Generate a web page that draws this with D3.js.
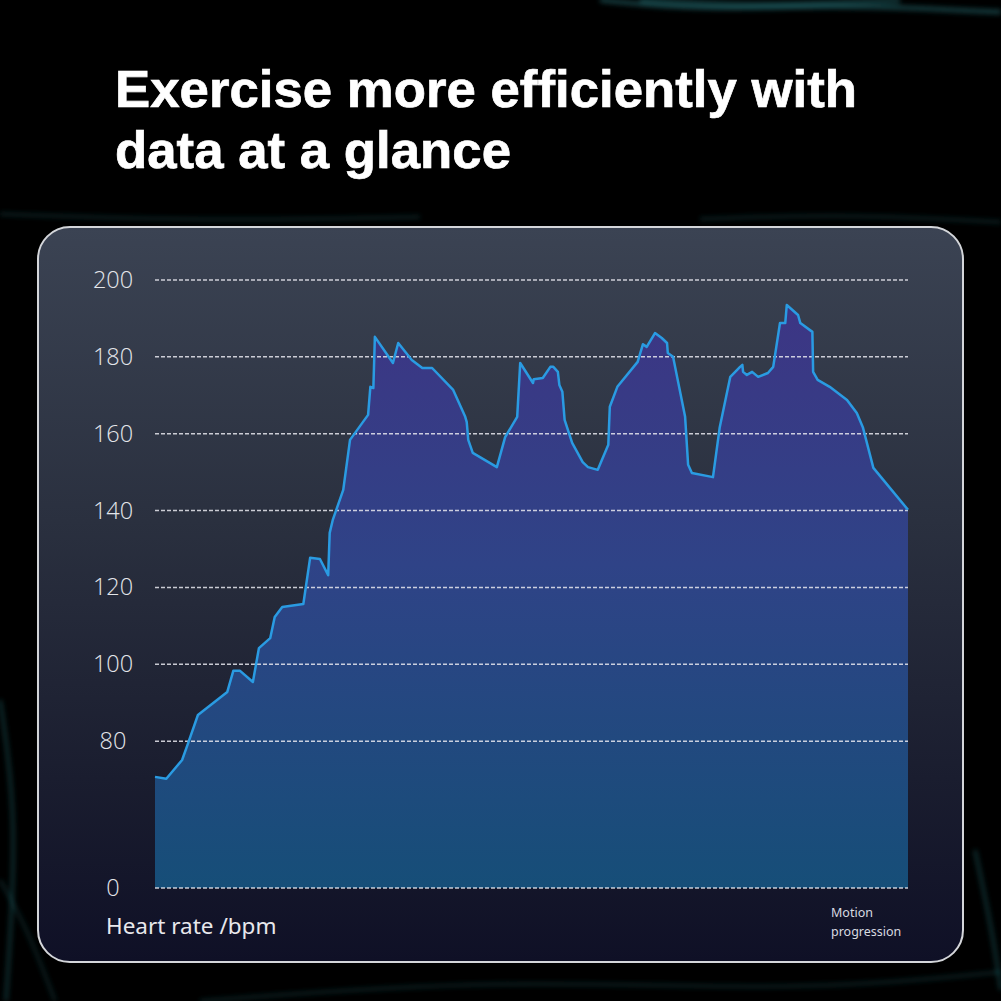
<!DOCTYPE html>
<html>
<head>
<meta charset="utf-8">
<script src="https://cdn.jsdelivr.net/npm/d3@7"></script>
<style>
  html, body { margin: 0; padding: 0; background: #000; }
  svg { display: block; }
</style>
</head>
<body>
<div id="chart"></div>
<script>
// motion progression (% of session) and heart rate (bpm)
const progress = [0, 1.5, 3.6, 4.4, 5.7, 9.6, 10.4, 11.3, 13.0, 13.8, 15.3, 15.9, 16.9, 19.7, 20.6, 21.9, 23.0,
  23.2, 23.6, 25.0, 25.9, 28.3, 28.6, 29.0, 29.2, 31.6, 32.3, 34.1, 35.5, 36.8, 39.6, 41.2, 41.4, 41.6, 42.2,
  45.4, 46.5, 48.1, 48.5, 50.2, 50.3, 51.5, 52.5, 52.9, 53.5, 53.7, 54.1, 54.4, 55.4, 56.8, 57.5, 58.8, 60.2,
  60.4, 61.4, 64.1, 64.8, 65.3, 66.4, 67.3, 68.0, 68.1, 68.8, 70.4, 70.8, 71.3, 74.1, 75.0, 76.4, 77.7, 78.0,
  78.1, 78.6, 79.3, 80.1, 81.4, 82.1, 83.0, 83.7, 83.9, 85.4, 85.7, 87.3, 87.4, 88.0, 89.6, 91.9, 93.2, 94.0,
  95.4, 100];
const heartRate = [70.7, 70.2, 75.1, 79.5, 86.8, 92.8, 98.3, 98.3, 95.4, 104.2, 106.8, 112.3, 114.9, 115.7, 127.7, 127.4, 123.2,
  134.2, 137.5, 145.4, 158.4, 164.9, 172.2, 171.9, 185.2, 178.4, 183.6, 179.2, 177.1, 177.1, 171.4, 164.4, 163.0, 158.4, 155.0,
  151.3, 159.1, 164.4, 178.4, 173.2, 174.2, 174.5, 177.4, 177.4, 176.1, 172.7, 170.9, 163.6, 157.6, 152.6, 151.3, 150.6, 157.1,
  167.0, 172.2, 178.7, 183.3, 182.6, 186.2, 184.9, 183.6, 181.0, 180.0, 164.4, 151.9, 149.8, 148.7, 161.7, 174.8, 177.4, 177.9,
  176.1, 175.3, 176.1, 174.8, 175.8, 177.4, 188.8, 188.8, 193.5, 190.9, 188.8, 186.5, 176.1, 174.0, 172.2, 168.8, 165.4, 161.7,
  151.1, 140.2];
const yTicks = [0, 80, 100, 120, 140, 160, 180, 200];
const titleLines = ['Exercise more efficiently with', 'data at a glance'];
const yLabel = 'Heart rate /bpm';
const xLabel = ['Motion', 'progression'];

const W = 1001, H = 1001;
const data = progress.map((p, i) => ({ p, v: heartRate[i] }));

const svg = d3.select('#chart').append('svg')
  .attr('width', W)
  .attr('height', H);

const defs = svg.append('defs');

const cardGrad = defs.append('linearGradient')
  .attr('id', 'cardGrad').attr('x1', 0).attr('y1', 0).attr('x2', 0).attr('y2', 1);
cardGrad.append('stop').attr('offset', '0%').attr('stop-color', '#3b4353');
cardGrad.append('stop').attr('offset', '40%').attr('stop-color', '#2a303f');
cardGrad.append('stop').attr('offset', '75%').attr('stop-color', '#1a1d2f');
cardGrad.append('stop').attr('offset', '100%').attr('stop-color', '#0f1026');

const areaGrad = defs.append('linearGradient')
  .attr('id', 'areaGrad').attr('gradientUnits', 'userSpaceOnUse')
  .attr('x1', 0).attr('y1', 300).attr('x2', 0).attr('y2', 888);
areaGrad.append('stop').attr('offset', '0%').attr('stop-color', '#3d3584');
areaGrad.append('stop').attr('offset', '45%').attr('stop-color', '#2f4387');
areaGrad.append('stop').attr('offset', '100%').attr('stop-color', '#164e78');

defs.append('filter').attr('id', 'soft')
  .append('feGaussianBlur').attr('stdDeviation', 2.5);

// faint teal streaks in the black backdrop
const bg = svg.append('g').attr('fill', 'none').attr('stroke', '#2f8f96').attr('filter', 'url(#soft)');
const streak = d3.line().curve(d3.curveBasis);
[
  { pts: [[600, 0], [700, 10], [820, 4], [1001, 12]], o: 0.4, w: 5 },
  { pts: [[640, 0], [760, 8], [900, 0]], o: 0.3, w: 8 },
  { pts: [[0, 700], [18, 820], [6, 1001]], o: 0.3, w: 4 },
  { pts: [[0, 880], [28, 930], [55, 1001]], o: 0.25, w: 3 },
  { pts: [[200, 1001], [500, 978], [800, 992], [1001, 972]], o: 0.25, w: 3 },
  { pts: [[975, 850], [992, 930], [1001, 990]], o: 0.3, w: 4 },
  { pts: [[0, 214], [200, 221], [420, 217]], o: 0.25, w: 3 },
  { pts: [[700, 219], [850, 214], [1001, 222]], o: 0.25, w: 3 }
].forEach(s => {
  bg.append('path').attr('d', streak(s.pts)).attr('stroke-opacity', s.o).attr('stroke-width', s.w);
});

// title
const title = svg.append('g')
  .attr('fill', '#ffffff')
  .attr('stroke', '#ffffff')
  .attr('stroke-width', 0.7)
  .attr('font-family', '"Liberation Sans", Arial, sans-serif')
  .attr('font-weight', 'bold')
  .attr('font-size', 52);
title.append('text').attr('x', 115).attr('y', 107)
  .attr('textLength', 742).attr('lengthAdjust', 'spacingAndGlyphs').text(titleLines[0]);
title.append('text').attr('x', 115).attr('y', 168)
  .attr('textLength', 396).attr('lengthAdjust', 'spacingAndGlyphs').text(titleLines[1]);

// card
svg.append('rect')
  .attr('x', 38).attr('y', 227)
  .attr('width', 925).attr('height', 735)
  .attr('rx', 32).attr('ry', 32)
  .attr('fill', 'url(#cardGrad)')
  .attr('stroke', '#d4d6da')
  .attr('stroke-width', 2);

const x = d3.scaleLinear().domain([0, 100]).range([155, 908]);
// broken axis: the band below 60 is squeezed
const y = d3.scaleLinear().domain([0, 60, 200]).range([888, 818, 280]);

const area = d3.area()
  .x(d => x(d.p))
  .y0(y(0))
  .y1(d => y(d.v));

const line = d3.line()
  .x(d => x(d.p))
  .y(d => y(d.v));

svg.append('path')
  .datum(data)
  .attr('d', area)
  .attr('fill', 'url(#areaGrad)');

const yAxis = d3.axisLeft(y)
  .tickValues(yTicks)
  .tickSize(0)
  .tickPadding(0);

const axisG = svg.append('g')
  .attr('transform', 'translate(113,0)')
  .call(yAxis);
axisG.select('.domain').remove();
axisG.selectAll('text')
  .attr('x', 0)
  .attr('text-anchor', 'middle')
  .attr('fill', '#e4e6ea')
  .attr('font-family', '"Open Sans", "Noto Sans", sans-serif')
  .attr('font-weight', 300)
  .attr('font-size', 23.5);

svg.append('g')
  .selectAll('line')
  .data(yTicks)
  .join('line')
  .attr('x1', x(0))
  .attr('x2', x(100))
  .attr('y1', d => y(d))
  .attr('y2', d => y(d))
  .attr('stroke', '#e8e8ee')
  .attr('stroke-opacity', 0.85)
  .attr('stroke-width', 1.5)
  .attr('stroke-dasharray', '4,2');

svg.append('path')
  .datum(data)
  .attr('d', line)
  .attr('fill', 'none')
  .attr('stroke', '#2a9be2')
  .attr('stroke-width', 2.5)
  .attr('stroke-linejoin', 'round');

svg.append('text')
  .attr('x', 106).attr('y', 934)
  .attr('fill', '#e8e8ec')
  .attr('font-family', '"Noto Sans", sans-serif')
  .attr('font-size', 22.5)
  .text(yLabel);

svg.append('g')
  .attr('fill', '#d8dae0')
  .attr('font-family', '"Noto Sans", sans-serif')
  .attr('font-size', 12.5)
  .selectAll('text')
  .data(xLabel)
  .join('text')
  .attr('x', 831)
  .attr('y', (d, i) => 917 + i * 19)
  .text(d => d);
</script>
</body>
</html>
